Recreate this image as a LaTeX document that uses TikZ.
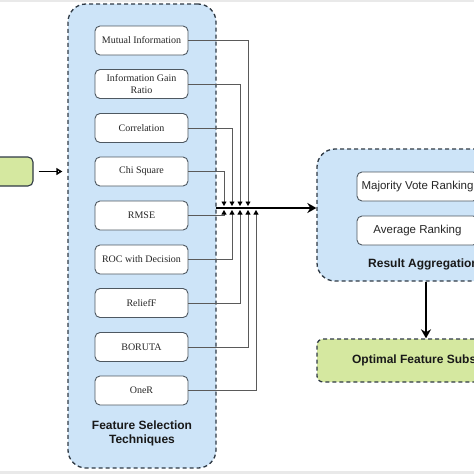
\documentclass[tikz,border=0pt]{standalone}
\usepackage{fontspec}
\setmainfont{Liberation Serif}
\newfontfamily\arial{Liberation Sans}
\usetikzlibrary{arrows.meta}
\definecolor{bluefill}{HTML}{CDE4F8}
\definecolor{greenfill}{HTML}{D5E8A0}
\definecolor{edgecol}{HTML}{2F3A45}
\definecolor{wirecol}{HTML}{5A5A5A}
\definecolor{bandcol}{HTML}{E9E9E9}
\begin{document}
\begin{tikzpicture}[x=1pt,y=-1pt,
  container/.style={draw=edgecol, line width=1.3pt, dash pattern=on 4pt off 3pt, fill=bluefill, rounded corners=18pt, inner sep=0pt},
  fsbox/.style={draw=edgecol!85, line width=0.9pt, fill=white, rounded corners=5pt, minimum width=93pt, minimum height=29pt, inner sep=0pt, font=\fontsize{10}{11.5}\selectfont, text=black!85, align=center},
  rabox/.style={draw=edgecol!85, line width=0.9pt, fill=white, rounded corners=5pt, minimum width=121pt, minimum height=29pt, inner sep=0pt, font=\arial\fontsize{11.5}{13}\selectfont, text=black!85},
  biglabel/.style={font=\arial\bfseries\fontsize{12}{14}\selectfont, text=black!90, align=center, inner sep=0pt},
  wire/.style={draw=wirecol, line width=0.9pt, -{Triangle[width=5pt,length=4.5pt,fill=black,color=black]}},
  mainarrow/.style={draw=black, line width=2pt, -{Stealth[width=10pt,length=9pt]}},
  openarrow/.style={draw=black, line width=1.5pt, -{Triangle[open,width=7pt,length=6pt]}, shorten <=5pt, shorten >=5pt}
]
\useasboundingbox (0,0) rectangle (474,474);
\clip (0,0) rectangle (474,474);
\fill[bandcol] (0,0) rectangle (474,2);
\fill[bandcol] (0,471) rectangle (474,474);

% left input box
\node[draw=edgecol, line width=1.1pt, fill=greenfill, rounded corners=5pt, minimum width=70pt, minimum height=29pt, inner sep=0pt] (inp) at (-2,171.5) {};

% feature selection container
\node[container, minimum width=148pt, minimum height=464pt] (fs) at (142,236) {};
\node[biglabel] (fslab) at (142,433) {Feature Selection\\Techniques};

\node[fsbox] (mi) at (141.5,40.5) {Mutual Information};
\node[fsbox] (ig) at (141.5,84) {Information Gain\\Ratio};
\node[fsbox] (co) at (141.5,128) {Correlation};
\node[fsbox] (cs) at (141.5,171.5) {Chi Square};
\node[fsbox] (rm) at (141.5,215.5) {RMSE};
\node[fsbox] (roc) at (141.5,259.5) {ROC with Decision};
\node[fsbox] (rf) at (141.5,303) {ReliefF};
\node[fsbox] (bo) at (141.5,347) {BORUTA};
\node[fsbox] (one) at (141.5,390.5) {OneR};

% result aggregation container
\node[container, minimum width=213pt, minimum height=132pt] (ra) at (423.5,215) {};
\node[rabox] (mv) at (417.5,186.5) {Majority Vote Ranking};
\node[rabox] (av) at (417.5,230.5) {Average Ranking};
\node[biglabel] (ralab) at (423.5,264) {Result Aggregation};

% optimal subset
\node[draw=edgecol, line width=1.3pt, dash pattern=on 4pt off 3pt, fill=greenfill, rounded corners=6pt, minimum width=205pt, minimum height=43pt, inner sep=0pt, biglabel] (opt) at (419.5,360.5) {Optimal Feature Subset};

% junction targets
\coordinate (tmi) at (248,206);
\coordinate (tig) at (240,206);
\coordinate (tco) at (232,206);
\coordinate (tcs) at (224,206);
\coordinate (trm) at (224,210);
\coordinate (troc) at (232,210);
\coordinate (trf) at (240,210);
\coordinate (tbo) at (248,210);
\coordinate (tone) at (256,210);
\coordinate (J) at (216,208);

\draw[wire] (mi.east) -| (tmi);
\draw[wire] (ig.east) -| (tig);
\draw[wire] (co.east) -| (tco);
\draw[wire] (cs.east) -| (tcs);
\draw[wire] (rm.east) -| (trm);
\draw[wire] (roc.east) -| (troc);
\draw[wire] (rf.east) -| (trf);
\draw[wire] (bo.east) -| (tbo);
\draw[wire] (one.east) -| (tone);

\draw[mainarrow] (J) -- (J -| ra.west);
\draw[mainarrow] ([xshift=2.5pt]ra.south) -- ([xshift=2.5pt]ra.south |- opt.north);
\draw[openarrow] (inp.east) -- (inp.east -| fs.west);
\end{tikzpicture}
\end{document}
